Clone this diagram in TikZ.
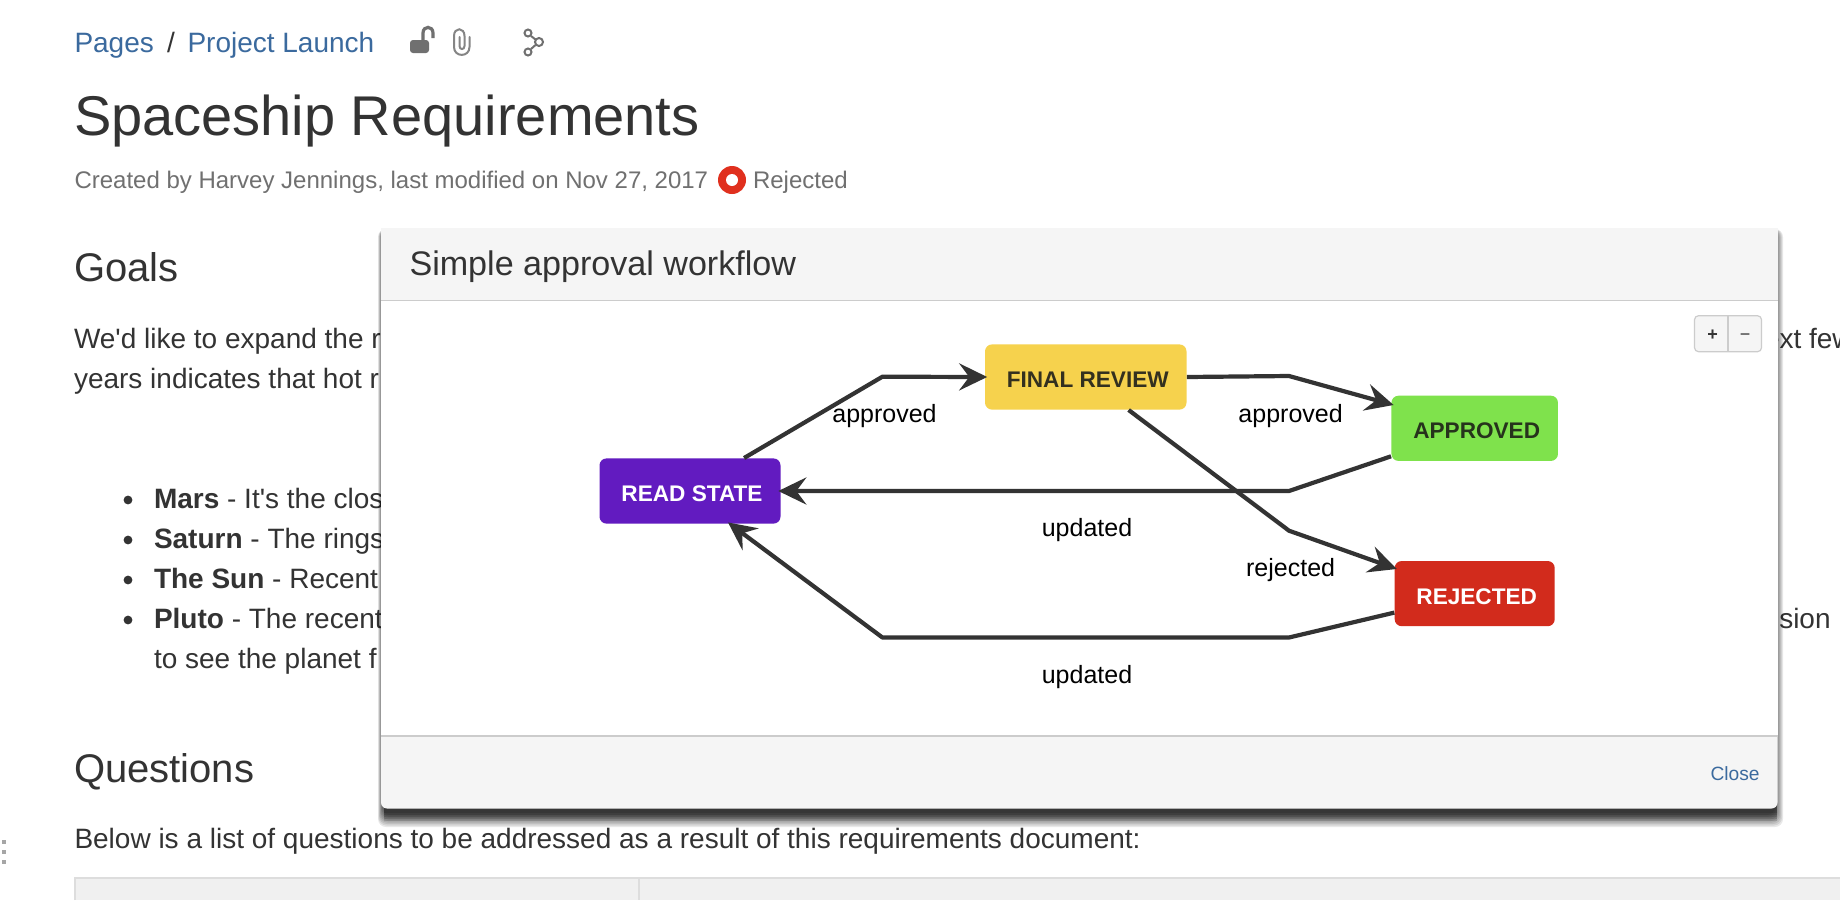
\documentclass[tikz,border=0pt]{standalone}
\usepackage{fontspec}
\setmainfont{Liberation Sans}[Ligatures=TeXOff]
\usetikzlibrary{arrows.meta}
\definecolor{ink}{HTML}{333333}
\definecolor{linkblue}{HTML}{3B6A9E}
\definecolor{metagray}{HTML}{707070}
\definecolor{panel}{HTML}{F5F5F5}
\definecolor{rulegray}{HTML}{CCCCCC}
\definecolor{edgeink}{HTML}{333333}
\definecolor{tablefill}{HTML}{F0F0F0}
\definecolor{tableline}{HTML}{DDDDDD}
\definecolor{iconink}{HTML}{707070}
\definecolor{statusred}{HTML}{E0301E}
\definecolor{readfill}{HTML}{621BC0}
\definecolor{reviewfill}{HTML}{F6D24D}
\definecolor{approvedfill}{HTML}{7FE24C}
\definecolor{rejectedfill}{HTML}{D22B1C}
\definecolor{reviewink}{HTML}{33301F}
\definecolor{approvedink}{HTML}{26331C}
\newcommand{\fs}[1]{\fontsize{#1pt}{#1pt}\selectfont}
\newcommand{\nudge}[1]{\hspace*{2pt}#1}
\tikzset{
  txt/.style={anchor=base west,inner sep=0pt,outer sep=0pt,text=ink,font=\fs{14}},
  crumb/.style={txt,text=linkblue,font=\fs{14}},
  headline/.style={txt,font=\fs{20}},
  metatext/.style={txt,text=metagray,font=\fs{12}},
  bulletdot/.style={circle,fill=ink,inner sep=0pt,minimum size=4.4pt},
  statebox/.style={rounded corners=3.5pt,inner sep=0pt,font=\fs{11.3}\bfseries,minimum height=32.6pt,text height=10.5pt,text depth=0pt},
  edgelabel/.style={anchor=base,inner sep=0pt,text=black,font=\fs{12.5}},
  flow/.style={draw=edgeink,line width=2.1pt,line join=round},
  flowtip/.style={flow,shorten >=-1.3pt,-{Stealth[length=14pt,width=13.5pt,inset=5pt]}},
}
\begin{document}
\begin{tikzpicture}[x=0.5pt,y=-0.5pt]
\useasboundingbox (0,0) rectangle (1840,900);
\clip (0,0) rectangle (1840,900);
\fill[white] (0,0) rectangle (1840,900);
% page header
\node[crumb] (pages) at (74.5,52) {Pages};
\node[txt,font=\fs{14}] (slash) at (167,52) {/};
\node[crumb] (project) at (187.5,52) {Project Launch};
\node[txt,font=\fs{28}] (title) at (74,135) {Spaceship Requirements};
\node[metatext] (meta) at (74.5,188) {Created by Harvey Jennings, last modified on Nov 27, 2017};
\node[metatext] (status) at (753,188) {Rejected};
\fill[statusred] (732,180) circle (14);
\fill[white] (732,180) circle (6);
% lock icon
\fill[iconink,rounded corners=1.5pt] (410,40) rectangle (429,53);
\draw[iconink,line width=1.6pt] (423,41) -- (423,33) .. controls (423,25.5) and (433,25.5) .. (433,33) -- (433,38);
% paperclip
\draw[iconink!85!white,line width=1pt,line cap=round] (459.5,37) -- (459.5,46) .. controls (459.5,50) and (464.5,50) .. (464.5,46) -- (464.5,36) .. controls (464.5,27) and (454,27) .. (454,36) -- (454,47) .. controls (454,57.5) and (469.5,57.5) .. (469.5,47) -- (469.5,37);
% share icon
\draw[iconink,line width=1pt] (528,33) circle (3.5) (539,42) circle (4) (528,52) circle (3.5);
\draw[iconink,line width=1pt] (531,36) -- (535.5,39.5) (535.5,45) -- (531,49);
% page body
\node[headline] (goals) at (74,281) {Goals};
\node[txt] (bodya) at (74,348) {We'd like to expand the r};
\node[txt] (bodyb) at (74,388) {years indicates that hot r};
\node[bulletdot] (ba) at (128,500) {};
\node[bulletdot] (bb) at (128,540) {};
\node[bulletdot] (bc) at (128,580) {};
\node[bulletdot] (bd) at (128,620) {};
\node[txt] (mars) at (154,508) {\textbf{Mars} - It's the clos};
\node[txt] (saturn) at (154,548) {\textbf{Saturn} - The rings};
\node[txt] (sun) at (154,588) {\textbf{The Sun} - Recent};
\node[txt] (pluto) at (154,628) {\textbf{Pluto} - The recent};
\node[txt] (tosee) at (154,668) {to see the planet f};
\node[txt,anchor=base east] (rightb) at (1830.6,628) {ision};
\node[txt] (righta) at (1764,348) {ext few};
\node[headline] (questions) at (74,782) {Questions};
\node[txt] (below) at (74.5,848) {Below is a list of questions to be addressed as a result of this requirements document:};
% margin dots
\foreach \yy in {842,852,862} \fill[gray!70] (2,\yy-2) rectangle (6,\yy+2);
% table
\fill[tablefill] (75,878) rectangle (1840,900);
\draw[tableline,line width=1pt] (75,900) -- (75,878) -- (1840,878);
\draw[tableline,line width=0.7pt] (639,878) -- (639,900);
% modal shadow
\foreach \k in {0,...,8}
  \fill[black,opacity=.09,rounded corners=4pt] (378+\k*0.5,229) rectangle (1783-\k*1,827-\k*1.5);
\foreach \j in {0,...,4}
  \fill[black,opacity=.12] (384,800) rectangle (1777,821-\j*2);
% modal
\fill[white] (381,228) rectangle (1777.5,736);
\fill[panel] (381,228) rectangle (1777.5,300);
\fill[panel] (381,736) {[rounded corners=3pt] -- (381,808.5) -- (1777.5,808.5)} -- (1777.5,736) -- cycle;
\draw[rulegray,line width=0.75pt] (381,300.5) -- (1777.5,300.5);
\draw[rulegray,line width=0.75pt] (381,736) -- (1777.5,736);
\node[txt,font=\fs{17.05}] (modaltitle) at (409.5,275) {Simple approval workflow};
\node[txt,text=linkblue,font=\fs{9.6}] (closelink) at (1710.5,780) {Close};
% zoom buttons
\node[draw=rulegray,fill=panel,rounded corners=2pt,line width=0.6pt,inner sep=0pt,minimum width=33.5pt,minimum height=18pt] (zoombox) at (1728,333.7) {};
\draw[rulegray,line width=0.6pt] (zoombox.north) -- (zoombox.south);
\node[anchor=center,inner sep=0pt,text=ink,font=\fs{9}\bfseries] (plus) at (1712.7,335) {+};
\node[anchor=center,inner sep=0pt,text=ink,font=\fs{9}] (minus) at (1745,337) {−};
% state nodes
\node[statebox,fill=readfill,text=white,minimum width=90.5pt] (rs) at (690,491) {\nudge{READ STATE}};
\node[statebox,fill=reviewfill,text=reviewink,minimum width=100.75pt] (fr) at (1085.75,377) {\nudge{FINAL REVIEW}};
\node[statebox,fill=approvedfill,text=approvedink,minimum width=83.25pt] (ap) at (1474.7,428.3) {\nudge{APPROVED}};
\node[statebox,fill=rejectedfill,text=white,minimum width=80pt] (rj) at (1474.7,593.6) {\nudge{REJECTED}};
% bends
\coordinate (ba1) at (882.4,376.7);
\coordinate (ba2) at (1289,376);
\coordinate (br)  at (1289,530.7);
\coordinate (bu1) at (1289,491);
\coordinate (bu2) at (1289,637.5);
\coordinate (bu3) at (882.4,637.5);
% connectors
\draw[flowtip] ([shift={(145,0)}]rs.north west) -- (ba1) -- (fr.west);
\draw[flowtip] (fr.east) -- (ba2) -- ([shift={(0,9)}]ap.north west);
\draw[flowtip] ([shift={(144,0)}]fr.south west) -- (br) -- ([shift={(0,7.5)}]rj.north west);
\draw[flowtip] ([shift={(0,-5)}]ap.south west) -- (bu1) -- (rs.east);
\draw[flowtip] ([shift={(0,-14)}]rj.south west) -- (bu2) -- (bu3) -- ([shift={(131,0)}]rs.south west);
% labels
\node[edgelabel] (la) at (884.5,422.7) {approved};
\node[edgelabel] (lb) at (1290.6,422) {approved};
\node[edgelabel] (lc) at (1087,536.7) {updated};
\node[edgelabel] (ld) at (1290.6,576.5) {rejected};
\node[edgelabel] (le) at (1087,683.2) {updated};
\end{tikzpicture}
\end{document}
